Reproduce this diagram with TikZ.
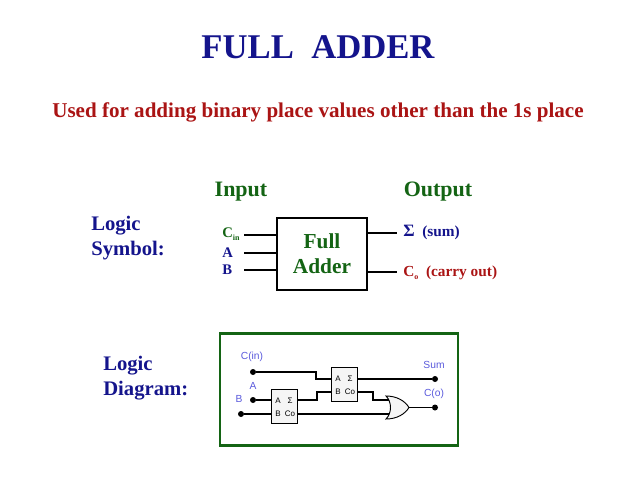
\documentclass[tikz,border=0pt]{standalone}
\usepackage{fontspec}
\setmainfont{Liberation Serif}
\newfontfamily\sansf{Liberation Sans}
\definecolor{tblue}{RGB}{20,20,140}
\definecolor{tred}{RGB}{170,20,20}
\definecolor{tgreen}{RGB}{20,100,20}
\definecolor{lblue}{RGB}{90,90,220}
\begin{document}
\begin{tikzpicture}[x=0.75pt,y=-0.75pt,
  txt/.style={font=\bfseries, inner sep=0pt},
  wire/.style={line width=0.8pt},
  gate/.style={draw, line width=0.6pt, minimum width=19.5pt, minimum height=26pt, inner sep=0pt, fill=gray!8},
  dot/.style={circle, fill=black, inner sep=0pt, minimum size=4.5pt},
  dl/.style={font=\sansf\fontsize{7.7}{8}\selectfont, text=lblue, inner sep=0pt},
  gl/.style={font=\sansf\fontsize{6}{7}\selectfont, inner sep=0pt}]
\useasboundingbox (0,0) rectangle (638,479);
\node[txt, text=tblue, font=\bfseries\fontsize{26}{30}\selectfont] (title) at (318,47) {FULL\ \ ADDER};
\node[txt, text=tred, font=\bfseries\fontsize{15.8}{18}\selectfont] (sub) at (318,112) {Used for adding binary place values other than the 1s place};
\node[txt, text=tgreen, font=\bfseries\fontsize{16.5}{18}\selectfont] (in) at (241,192) {Input};
\node[txt, text=tgreen, font=\bfseries\fontsize{16.5}{18}\selectfont] (out) at (438,192) {Output};
\node[txt, text=tblue, font=\bfseries\fontsize{15.5}{19}\selectfont, align=left, anchor=west] (ls) at (91,238) {Logic\\Symbol:};
\node[txt, text=tblue, font=\bfseries\fontsize{15.5}{19}\selectfont, align=left, anchor=west] (ld) at (103,378) {Logic\\Diagram:};
% full adder
\node[draw, line width=0.9pt, minimum width=67.5pt, minimum height=54pt, text=tgreen, font=\bfseries\fontsize{16}{19}\selectfont, align=center] (fa) at (322,254) {Full\\Adder};
\coordinate (ci) at (244,235); \coordinate (ai) at (244,253); \coordinate (bi) at (244,270);
\coordinate (so) at (397,233); \coordinate (co) at (397,272);
\draw[wire] (ci) -- (ci -| fa.west);
\draw[wire] (ai) -- (ai -| fa.west);
\draw[wire] (bi) -- (bi -| fa.west);
\draw[wire] (so -| fa.east) -- (so);
\draw[wire] (co -| fa.east) -- (co);
\node[txt, anchor=west, text=tgreen, font=\bfseries\fontsize{11}{12}\selectfont] (cil) at (222,234) {C\raisebox{-2pt}{\fontsize{6}{6}\selectfont in}};
\node[txt, anchor=west, text=tblue, font=\bfseries\fontsize{11}{12}\selectfont] (al) at (222,253) {A};
\node[txt, anchor=west, text=tblue, font=\bfseries\fontsize{11}{12}\selectfont] (bl) at (222,270) {B};
\node[txt, anchor=west, text=tblue, font=\bfseries\fontsize{11.5}{12}\selectfont] (sl) at (403,232) {{\fontsize{13}{13}\selectfont Σ}\ \ (sum)};
\node[txt, anchor=west, text=tred, font=\bfseries\fontsize{11.5}{12}\selectfont] (cl) at (403,273) {C\raisebox{-2pt}{\fontsize{6}{6}\selectfont o}\ \ (carry out)};
% logic diagram frame
\node[draw=tgreen, line width=1.6pt, minimum width=178pt, minimum height=84pt] (frame) at (339,389.5) {};
\node[gate] (g2) at (344,384.5) {};
\node[gate] (g1) at (284,406.5) {};
\node[gl] at (338,379) {A}; \node[gl] at (350,379) {Σ};
\node[gl] at (338,392) {B}; \node[gl] at (350,392) {Co};
\node[gl] at (278,401) {A}; \node[gl] at (290,401) {Σ};
\node[gl] at (278,414) {B}; \node[gl] at (290,414) {Co};
% OR gate
\draw[line width=0.7pt, fill=gray!8] (386,396) .. controls (392,402) and (392,413) .. (386,419)
  .. controls (397,419) and (405,414) .. (409,407.5)
  .. controls (405,401) and (397,396) .. (386,396) -- cycle;
\coordinate (orA) at (389,400); \coordinate (orB) at (389,414); \coordinate (orO) at (409,407.5);
\node[dot] (dci) at (253,372) {}; \node[dot] (da) at (253,400) {}; \node[dot] (db) at (241,414) {};
\node[dot] (dsum) at (435,379) {}; \node[dot] (dco) at (435,407.5) {};
\node[dl] at (252,357) {C(in)}; \node[dl] at (253,386) {A}; \node[dl] at (239,399) {B};
\node[dl] at (434,365) {Sum}; \node[dl] at (434,394) {C(o)};
\draw[wire] (dci) -- (316,372) -- (316,379) -- (g2.west |- 0,379);
\draw[wire] (da) -- (g1.west |- 0,400);
\draw[wire] (db) -- (g1.west |- 0,414);
\draw[wire] (g1.east |- 0,400) -- (317,400) -- (317,392) -- (g2.west |- 0,392);
\draw[wire] (g2.east |- 0,379) -- (dsum);
\draw[wire] (g2.east |- 0,392) -- (373,392) -- (373,400) -- (orA);
\draw[wire] (g1.east |- 0,414) -- (orB);
\draw[wire] (orO) -- (dco);
\end{tikzpicture}
\end{document}
